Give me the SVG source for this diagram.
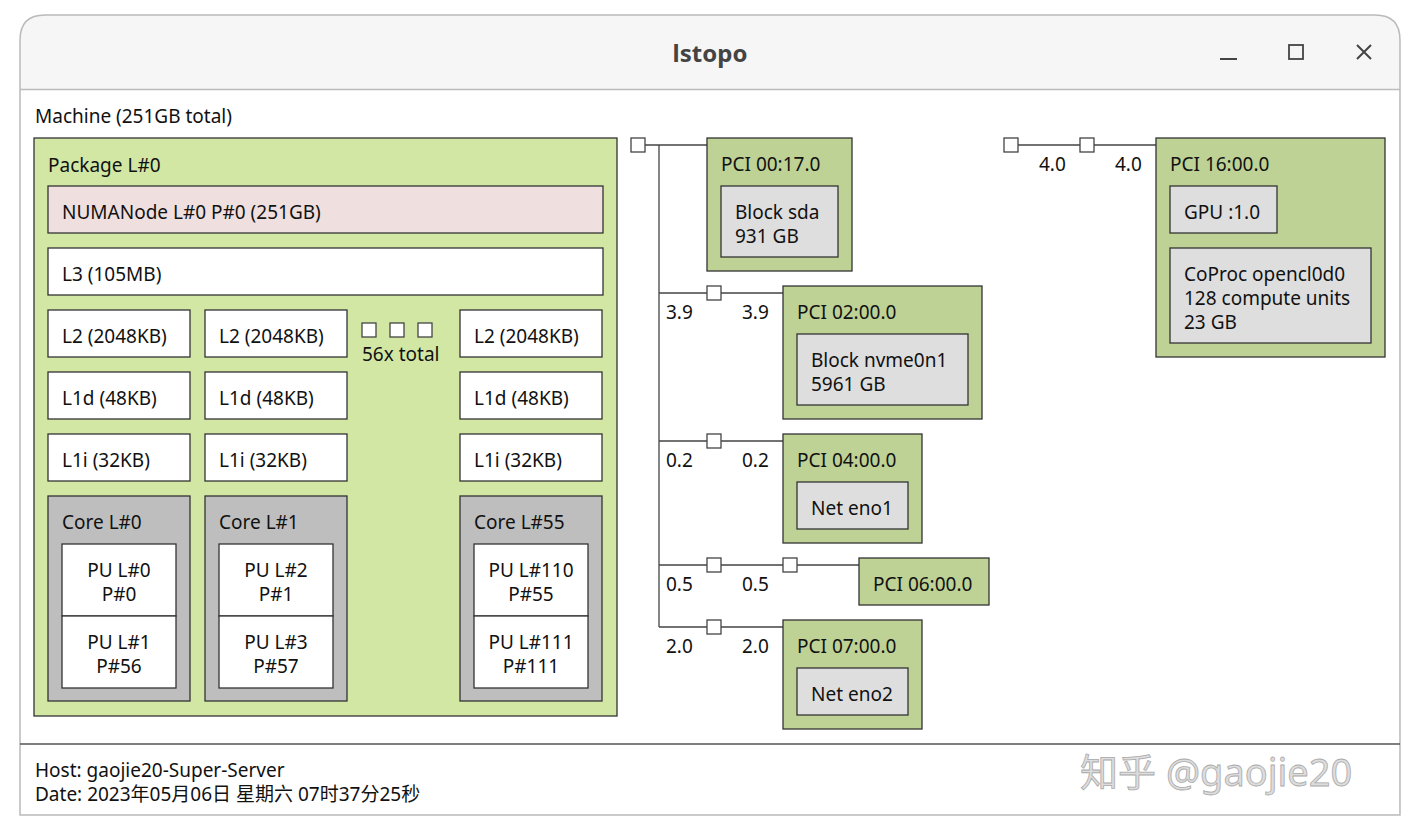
<svg xmlns="http://www.w3.org/2000/svg" width="1420" height="836" viewBox="0 0 1420 836">
<style>
text{font-family:"Noto Sans","DejaVu Sans","Noto Sans CJK SC",sans-serif;font-size:19px;fill:#111}
.b{stroke:#333;stroke-width:1.3}
.pk{fill:#d2e7a4}.nu{fill:#efdfde}.w{fill:#fff}.co{fill:#bebebe}.pci{fill:#bed295}.os{fill:#dedede}
.ln{stroke:#444;stroke-width:1.3;fill:none}
.sq{fill:#fff;stroke:#444;stroke-width:1.3}
.c{text-anchor:middle}
</style>
<rect width="1420" height="836" fill="#fff"/>
<g id="window">
<path d="M20,815 V40 Q20,15 45,15 H1375 Q1400,15 1400,40 V815 Z" fill="#f6f6f6" stroke="#bbb" stroke-width="1.5"/>
<rect x="21" y="90" width="1378" height="724" fill="#fff"/>
<line x1="20" y1="89.5" x2="1400" y2="89.5" stroke="#bbb" stroke-width="1.5"/>
<line x1="20" y1="744" x2="1400" y2="744" stroke="#555" stroke-width="1.3"/>
<text x="710" y="62" class="c" style="font-size:24px;font-weight:bold;fill:#444">lstopo</text>
<line x1="1220" y1="59" x2="1237" y2="59" stroke="#444" stroke-width="2"/>
<rect x="1289" y="45" width="14" height="14" fill="none" stroke="#444" stroke-width="1.8"/>
<path d="M1357,45 L1371,59 M1371,45 L1357,59" stroke="#444" stroke-width="2"/>
</g>
<g id="machine"><text x="35" y="123">Machine (251GB total)</text></g>
<g id="package">
<rect x="34" y="138" width="583" height="578" class="pk b"/>
<text x="48" y="172">Package L#0</text>
</g>
<g id="numa"><rect x="48" y="186" width="555" height="47" class="nu b"/><text x="62" y="219">NUMANode L#0 P#0 (251GB)</text></g>
<g id="l3"><rect x="48" y="248" width="555" height="47" class="w b"/><text x="62" y="281">L3 (105MB)</text></g>
<g id="caches">
<rect x="48" y="310" width="142" height="47" class="w b"/><text x="62" y="343">L2 (2048KB)</text>
<rect x="205" y="310" width="142" height="47" class="w b"/><text x="219" y="343">L2 (2048KB)</text>
<rect x="460" y="310" width="142" height="47" class="w b"/><text x="474" y="343">L2 (2048KB)</text>
<rect x="48" y="372" width="142" height="47" class="w b"/><text x="62" y="405">L1d (48KB)</text>
<rect x="205" y="372" width="142" height="47" class="w b"/><text x="219" y="405">L1d (48KB)</text>
<rect x="460" y="372" width="142" height="47" class="w b"/><text x="474" y="405">L1d (48KB)</text>
<rect x="48" y="434" width="142" height="47" class="w b"/><text x="62" y="467">L1i (32KB)</text>
<rect x="205" y="434" width="142" height="47" class="w b"/><text x="219" y="467">L1i (32KB)</text>
<rect x="460" y="434" width="142" height="47" class="w b"/><text x="474" y="467">L1i (32KB)</text>
</g>
<g id="total">
<rect x="362" y="323" width="14" height="14" class="sq"/><rect x="390" y="323" width="14" height="14" class="sq"/><rect x="418" y="323" width="14" height="14" class="sq"/>
<text x="362" y="361">56x total</text>
</g>
<g id="core0"><rect x="48" y="496" width="142" height="205" class="co b"/><text x="62" y="529">Core L#0</text>
<rect x="62" y="544" width="114" height="72" class="w b"/><text x="119" y="577" class="c">PU L#0</text><text x="119" y="601" class="c">P#0</text>
<rect x="62" y="616" width="114" height="72" class="w b"/><text x="119" y="649" class="c">PU L#1</text><text x="119" y="673" class="c">P#56</text></g>
<g id="core1"><rect x="205" y="496" width="142" height="205" class="co b"/><text x="219" y="529">Core L#1</text>
<rect x="219" y="544" width="114" height="72" class="w b"/><text x="276" y="577" class="c">PU L#2</text><text x="276" y="601" class="c">P#1</text>
<rect x="219" y="616" width="114" height="72" class="w b"/><text x="276" y="649" class="c">PU L#3</text><text x="276" y="673" class="c">P#57</text></g>
<g id="core55"><rect x="460" y="496" width="142" height="205" class="co b"/><text x="474" y="529">Core L#55</text>
<rect x="474" y="544" width="114" height="72" class="w b"/><text x="531" y="577" class="c">PU L#110</text><text x="531" y="601" class="c">P#55</text>
<rect x="474" y="616" width="114" height="72" class="w b"/><text x="531" y="649" class="c">PU L#111</text><text x="531" y="673" class="c">P#111</text></g>
<g id="connectors">
<path class="ln" d="M645,145 H707 M659,145 V627 M659,293 H783 M659,441 H783 M659,565 H859 M659,627 H783 M1018,145 H1156"/>
<rect x="631" y="138" width="14" height="14" class="sq"/>
<rect x="707" y="286" width="14" height="14" class="sq"/>
<rect x="707" y="434" width="14" height="14" class="sq"/>
<rect x="707" y="558" width="14" height="14" class="sq"/>
<rect x="783" y="558" width="14" height="14" class="sq"/>
<rect x="707" y="620" width="14" height="14" class="sq"/>
<rect x="1004" y="138" width="14" height="14" class="sq"/>
<rect x="1080" y="138" width="14" height="14" class="sq"/>
<text x="666" y="319">3.9</text><text x="742" y="319">3.9</text>
<text x="666" y="467">0.2</text><text x="742" y="467">0.2</text>
<text x="666" y="591">0.5</text><text x="742" y="591">0.5</text>
<text x="666" y="653">2.0</text><text x="742" y="653">2.0</text>
<text x="1039" y="171">4.0</text><text x="1115" y="171">4.0</text>
</g>
<g id="pci0017"><rect x="707" y="138" width="145" height="133" class="pci b"/><text x="721" y="171">PCI 00:17.0</text>
<rect x="721" y="186" width="117" height="71" class="os b"/><text x="735" y="219">Block sda</text><text x="735" y="243">931 GB</text></g>
<g id="pci0200"><rect x="783" y="286" width="199" height="133" class="pci b"/><text x="797" y="319">PCI 02:00.0</text>
<rect x="797" y="334" width="171" height="71" class="os b"/><text x="811" y="367">Block nvme0n1</text><text x="811" y="391">5961 GB</text></g>
<g id="pci0400"><rect x="783" y="434" width="139" height="109" class="pci b"/><text x="797" y="467">PCI 04:00.0</text>
<rect x="797" y="482" width="111" height="47" class="os b"/><text x="811" y="515">Net eno1</text></g>
<g id="pci0600"><rect x="859" y="558" width="130" height="47" class="pci b"/><text x="873" y="591">PCI 06:00.0</text></g>
<g id="pci0700"><rect x="783" y="620" width="139" height="109" class="pci b"/><text x="797" y="653">PCI 07:00.0</text>
<rect x="797" y="668" width="111" height="47" class="os b"/><text x="811" y="701">Net eno2</text></g>
<g id="pci1600"><rect x="1156" y="138" width="229" height="219" class="pci b"/><text x="1170" y="171">PCI 16:00.0</text>
<rect x="1170" y="186" width="107" height="47" class="os b"/><text x="1184" y="219">GPU :1.0</text>
<rect x="1170" y="248" width="201" height="95" class="os b"/><text x="1184" y="281">CoProc opencl0d0</text><text x="1184" y="305">128 compute units</text><text x="1184" y="329">23 GB</text></g>
<g id="footer">
<text x="35" y="777">Host: gaojie20-Super-Server</text>
<text x="35" y="801">Date: 2023年05月06日 星期六 07时37分25秒</text>
<text x="1080" y="786" style="font-size:38px;fill:#ddd;stroke:#aaa;stroke-width:0.8">知乎 @gaojie20</text>
</g>
</svg>
